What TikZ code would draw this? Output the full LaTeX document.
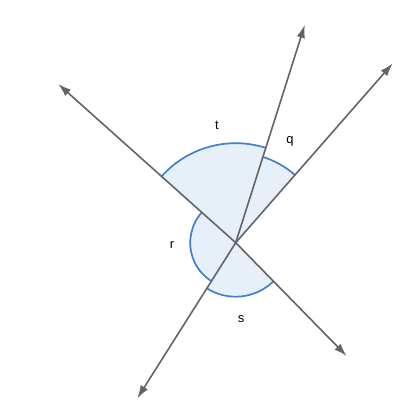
\documentclass[tikz,border=0pt]{standalone}
\usepackage{fontspec}
\setmainfont{Liberation Sans}
\usetikzlibrary{arrows.meta,calc}
\definecolor{rayc}{RGB}{100,100,104}
\definecolor{arcc}{RGB}{64,128,204}
\definecolor{secfill}{RGB}{231,239,249}
\tikzset{
  ray/.style={draw=rayc, line width=1.6pt, -{Latex[length=13pt,width=8.5pt]}},
  secpart/.style={fill=secfill},
  arcline/.style={draw=arcc, line width=1.7pt},
  lbl/.style={inner sep=0pt, font=\fontsize{13}{13}\selectfont, text=black}
}
\begin{document}
\begin{tikzpicture}[x=1pt,y=1pt]
\useasboundingbox (0,0) rectangle (404,401);
\coordinate (V) at (235.7,158.3);
% ray ends
\coordinate (NW) at ($(V)+(138.2:238)$);
\coordinate (UP) at ($(V)+(72.4:228.5)$);
\coordinate (NE) at ($(V)+(48.8:238.3)$);
\coordinate (DL) at ($(V)+(237.7:184.1)$);
\coordinate (SE) at ($(V)+(314.4:158.6)$);
% sectors fill
\fill[secpart] (V) -- ++(72.4:99.5) arc[start angle=72.4,end angle=138.2,radius=99.5] -- cycle;
\fill[secpart] (V) -- ++(48.8:90) arc[start angle=48.8,end angle=72.4,radius=90] -- cycle;
\fill[secpart] (V) -- ++(138.2:45.5) arc[start angle=138.2,end angle=237.7,radius=45.5] -- cycle;
\fill[secpart] (V) -- ++(237.7:54) arc[start angle=237.7,end angle=314.4,radius=54] -- cycle;
% arcs
\draw[arcline] (V) ++(72.4:99.5) arc[start angle=72.4,end angle=138.2,radius=99.5];
\draw[arcline] (V) ++(48.8:90) arc[start angle=48.8,end angle=72.4,radius=90];
\draw[arcline] (V) ++(138.2:45.5) arc[start angle=138.2,end angle=237.7,radius=45.5];
\draw[arcline] (V) ++(237.7:54) arc[start angle=237.7,end angle=314.4,radius=54];
% rays
\draw[ray] (V) -- (NW);
\draw[ray] (V) -- (UP);
\draw[ray] (V) -- (NE);
\draw[ray] (V) -- (DL);
\draw[ray] (V) -- (SE);
% labels
\node[lbl] (lt) at (217,276) {t};
\node[lbl] (lq) at (290,260) {q};
\node[lbl] (lr) at (172,156) {r};
\node[lbl] (ls) at (241,82) {s};
\end{tikzpicture}
\end{document}
